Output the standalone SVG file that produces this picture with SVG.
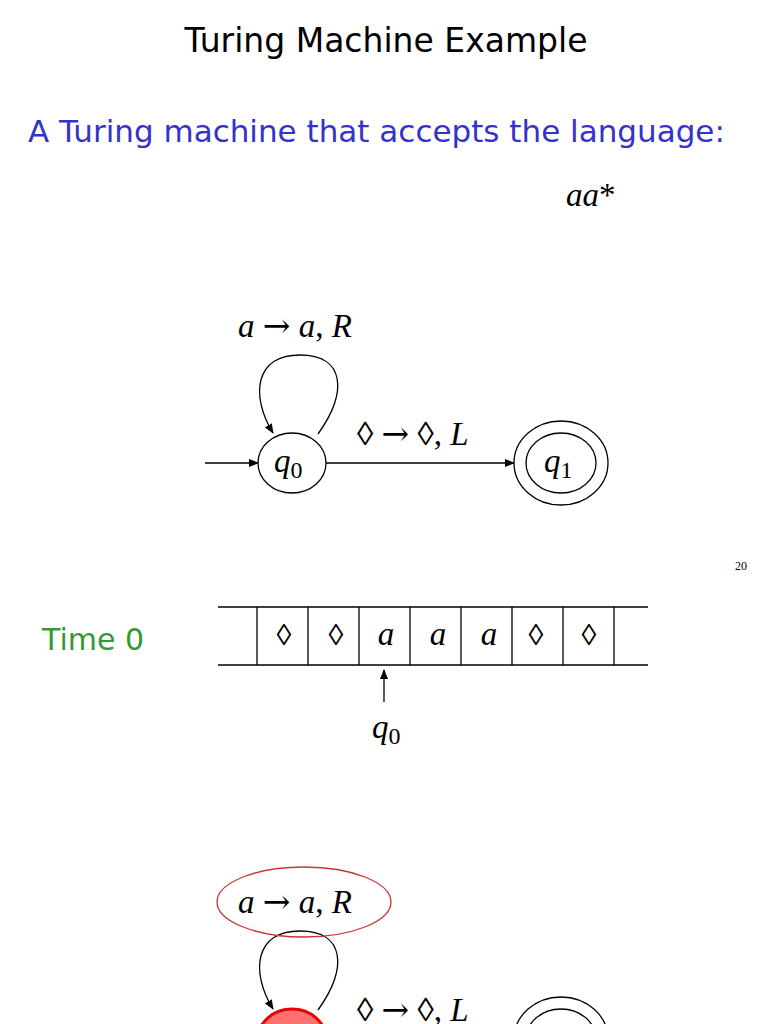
<svg xmlns="http://www.w3.org/2000/svg" width="768" height="1024" viewBox="0 0 768 1024">
<style>
.t{font-family:"DejaVu Sans",sans-serif}
.m{font-family:"Liberation Serif",serif;font-style:italic;font-size:33px;fill:#000}
.r{font-family:"Liberation Serif",serif;font-size:30px;fill:#000}
.ar{font-family:"DejaVu Serif",serif;font-style:normal}
.ln{stroke:#000;stroke-width:1.3;fill:none}
</style>
<defs><marker id="ah" markerWidth="10" markerHeight="8" refX="9" refY="4" orient="auto" markerUnits="userSpaceOnUse"><path d="M0,0 L10,4 L0,8 Z" fill="#000"/></marker></defs>
<rect width="768" height="1024" fill="#fff"/>
<text class="t" x="386" y="52" font-size="33" text-anchor="middle">Turing Machine Example</text>
<text class="t" x="28" y="142" font-size="31" fill="#3333cc">A Turing machine that accepts the language:</text>
<text class="m" x="566" y="206" font-size="34">aa<tspan font-style="normal">*</tspan></text>
<text x="735" y="570" font-size="12" font-family="Liberation Serif,serif">20</text>
<text class="t" x="42" y="650" font-size="30" fill="#339933">Time 0</text>

<g id="connectors">
<line class="ln" x1="205" y1="463" x2="258" y2="463" marker-end="url(#ah)"/>
<line class="ln" x1="326" y1="463" x2="514" y2="463" marker-end="url(#ah)"/>
<path class="ln" d="M318 434 C348 392,345 355,300 355 C255 355,250 395,273 433" marker-end="url(#ah)"/>
<line class="ln" x1="384" y1="702" x2="384" y2="670" marker-end="url(#ah)"/>
<line class="ln" x1="205" y1="1039" x2="258" y2="1039" marker-end="url(#ah)"/>
<path class="ln" d="M318 1010 C348 968,345 931,300 931 C255 931,250 971,273 1009" marker-end="url(#ah)"/>
</g>

<text class="m" x="238" y="337">a <tspan class="ar">→</tspan> a<tspan font-style="normal">,</tspan> R</text>
<text class="m" x="357" y="445"><tspan font-style="normal">◊ <tspan class="ar">→</tspan> ◊,</tspan> L</text>
<g id="q0"><ellipse cx="292" cy="463" rx="34" ry="30" class="ln"/><text class="m" x="274" y="472">q<tspan font-style="normal" font-size="24" dy="6">0</tspan></text></g>
<g id="q1"><ellipse cx="561" cy="463" rx="47" ry="42" class="ln"/><ellipse cx="561" cy="463" rx="35" ry="30" class="ln"/><text class="m" x="544" y="472">q<tspan font-style="normal" font-size="24" dy="6">1</tspan></text></g>

<g id="tape">
<line class="ln" x1="218" y1="607" x2="648" y2="607"/>
<line class="ln" x1="218" y1="665" x2="648" y2="665"/>
<path class="ln" d="M257 607V665M308 607V665M359 607V665M410 607V665M461 607V665M512 607V665M563 607V665M614 607V665"/>
<g class="r" text-anchor="middle">
<text x="284" y="645">◊</text><text x="336" y="645">◊</text>
<text x="386" y="645" class="m">a</text><text x="438" y="645" class="m">a</text><text x="489" y="645" class="m">a</text>
<text x="536" y="645">◊</text><text x="589" y="645">◊</text>
</g>
<text class="m" x="372" y="738">q<tspan font-style="normal" font-size="24" dy="6">0</tspan></text>
</g>

<ellipse cx="304" cy="902" rx="87" ry="35" fill="none" stroke="#cc3333" stroke-width="1.3"/>
<text class="m" x="238" y="913">a <tspan class="ar">→</tspan> a<tspan font-style="normal">,</tspan> R</text>
<text class="m" x="357" y="1021"><tspan font-style="normal">◊ <tspan class="ar">→</tspan> ◊,</tspan> L</text>
<g id="q0b"><ellipse cx="292" cy="1039" rx="34" ry="30" fill="#ff7070" stroke="#ee0000" stroke-width="3"/></g>
<g id="q1b"><ellipse cx="561" cy="1039" rx="47" ry="42" class="ln"/><ellipse cx="561" cy="1039" rx="35" ry="30" class="ln"/></g>
</svg>
